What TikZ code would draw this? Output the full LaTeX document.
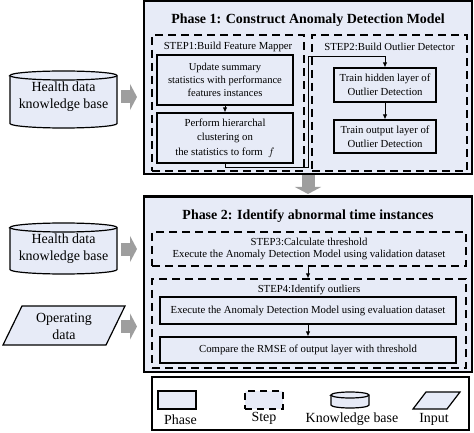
\documentclass[tikz,border=0pt]{standalone}
\usepackage{fontspec}
\setmainfont{Liberation Serif}
\usetikzlibrary{arrows.meta}
\definecolor{bgc}{RGB}{231,235,247}
\definecolor{garc}{RGB}{158,158,158}
\begin{document}
\begin{tikzpicture}[x=1bp,y=1bp,
 phase/.style={draw, line width=2.4bp, fill=bgc, inner sep=0pt},
 stepbox/.style={draw, line width=1.3bp, dash pattern=on 8bp off 5bp, inner sep=0pt},
 proc/.style={draw, line width=1.2bp, fill=bgc, align=center, font=\fontsize{10.8}{14}\selectfont, inner sep=0pt},
 lbl/.style={font=\fontsize{10.8}{12.5}\selectfont, align=center, inner sep=0pt},
 ptitle/.style={font=\fontsize{14}{16}\selectfont\bfseries, inner sep=0pt},
 big/.style={font=\fontsize{14}{17}\selectfont, align=center, inner sep=0pt},
 leg/.style={font=\fontsize{14}{16}\selectfont, inner sep=0pt},
 link/.style={line width=0.9bp, -{Latex[length=5bp,width=4.5bp]}},
 garrow/.style={draw=garc, line width=13bp, -{Triangle[length=7bp,width=26bp]}},
 shp/.style={draw, line width=1.2bp, fill=bgc}
]
\useasboundingbox (0,0) rectangle (474,-433);

% ---------- Phase 1 ----------
\node[phase, minimum width=328bp, minimum height=172.7bp] (p1) at (308,-87.6) {};
\node[ptitle] (t1) at (308,-20) {Phase 1: Construct Anomaly Detection Model};
\node[stepbox, minimum width=152bp, minimum height=136bp] (s1) at (228,-103) {};
\node[stepbox, minimum width=155bp, minimum height=136bp] (s2) at (389.5,-103) {};
\node[lbl] (s1l) at (228,-47) {STEP1:Build Feature Mapper};
\node[lbl] (s2l) at (389.5,-47) {STEP2:Build Outlier Detector};
\node[proc, minimum width=136bp, minimum height=50bp, font=\fontsize{10.6}{13}\selectfont] (upd) at (225,-80) {Update summary\\statistics with performance\\features instances};
\node[proc, minimum width=136bp, minimum height=50bp, font=\fontsize{10.8}{14.5}\selectfont] (perf) at (225,-138) {Perform hierarchal\\clustering on\\the statistics to form~ $f$};
\node[proc, minimum width=102bp, minimum height=34bp] (hid) at (385,-85) {Train hidden layer of\\Outlier Detection};
\node[proc, minimum width=102bp, minimum height=33bp] (out) at (385,-136.5) {Train output layer of\\Outlier Detection};
\draw[link] (upd) -- (perf);
\draw[link] (hid) -- (out);
\coordinate (j1) at (308,-167);
\coordinate (j2) at (308,-56);
\draw[link] (perf.south) |- (j1) -- (j2) -| (hid.north);

% ---------- Phase 2 ----------
\node[phase, minimum width=328bp, minimum height=175bp] (p2) at (308,-284.2) {};
\node[ptitle] (t2) at (308,-216) {Phase 2: Identify abnormal time instances};
\node[stepbox, minimum width=314bp, minimum height=34bp, lbl] (s3) at (309,-249) {STEP3:Calculate threshold\\Execute the Anomaly Detection Model using validation dataset};
\node[stepbox, minimum width=314bp, minimum height=89bp] (s4) at (309,-323.5) {};
\node[lbl] (s4l) at (309,-290) {STEP4:Identify outliers};
\node[proc, minimum width=296bp, minimum height=27bp] (exe) at (308,-310.5) {Execute the Anomaly Detection Model using evaluation dataset};
\node[proc, minimum width=296bp, minimum height=26bp] (cmp) at (308,-350) {Compare the RMSE of output layer with threshold};
\draw[link] (s3.south -| exe.north) -- (s4.north -| exe.north);
\draw[link] (exe) -- (cmp);

% gray arrow phase 1 -> phase 2
\draw[garrow, shorten >=1.5bp] (p1.south) -- (p2.north);

% ---------- Inputs ----------
\draw[shp] (10,-75.5) -- (10,-123.5) arc[start angle=180,end angle=360,x radius=53.5bp,y radius=4.5bp] -- (117,-75.5) arc[start angle=0,end angle=180,x radius=53.5bp,y radius=4.5bp] -- cycle;
\draw[line width=1.2bp] (10,-75.5) arc[start angle=180,end angle=360,x radius=53.5bp,y radius=4.5bp];
\node[big, minimum width=107bp, minimum height=50bp] (kb1) at (63.5,-97) {Health data\\knowledge base};

\draw[shp] (10,-227.5) -- (10,-269.5) arc[start angle=180,end angle=360,x radius=53.5bp,y radius=4.5bp] -- (117,-227.5) arc[start angle=0,end angle=180,x radius=53.5bp,y radius=4.5bp] -- cycle;
\draw[line width=1.2bp] (10,-227.5) arc[start angle=180,end angle=360,x radius=53.5bp,y radius=4.5bp];
\node[big, minimum width=107bp, minimum height=40bp] (kb2) at (63.5,-249) {Health data\\knowledge base};

\draw[shp] (22,-306) -- (125,-306) -- (106,-345) -- (3,-345) -- cycle;
\node[big, minimum width=103bp, minimum height=36bp] (od) at (64,-326.5) {Operating\\data};

\draw[garrow, shorten <=4bp, shorten >=5.8bp] (kb1.east) -- (kb1.east -| p1.west);
\draw[garrow, shorten <=4bp, shorten >=5.8bp] (kb2.east) -- (kb2.east -| p2.west);
\draw[garrow, shorten <=5.5bp, shorten >=5.8bp] (od.east) -- (od.east -| p2.west);

% ---------- Legend ----------
\node[draw, line width=1.2bp, minimum width=317bp, minimum height=53bp, inner sep=0pt] (lg) at (310.5,-403.5) {};
\node[shp, minimum width=38bp, minimum height=18bp, inner sep=0pt] (lphase) at (177,-400) {};
\node[stepbox, fill=bgc, minimum width=38bp, minimum height=18bp, dash pattern=on 7bp off 5bp] (lstep) at (264,-400) {};
\draw[shp] (331,-395) -- (331,-405) arc[start angle=180,end angle=360,x radius=19bp,y radius=3bp] -- (369,-395) arc[start angle=0,end angle=180,x radius=19bp,y radius=3bp] -- cycle;
\draw[line width=1.2bp] (331,-395) arc[start angle=180,end angle=360,x radius=19bp,y radius=3bp];
\draw[shp] (426,-392) -- (460,-392) -- (447,-409) -- (413,-409) -- cycle;
\node[leg] (lt1) at (180.5,-420) {Phase};
\node[leg] (lt2) at (264,-418) {Step};
\node[leg] (lt3) at (352,-419) {Knowledge base};
\node[leg] (lt4) at (434,-419) {Input};
\end{tikzpicture}
\end{document}
